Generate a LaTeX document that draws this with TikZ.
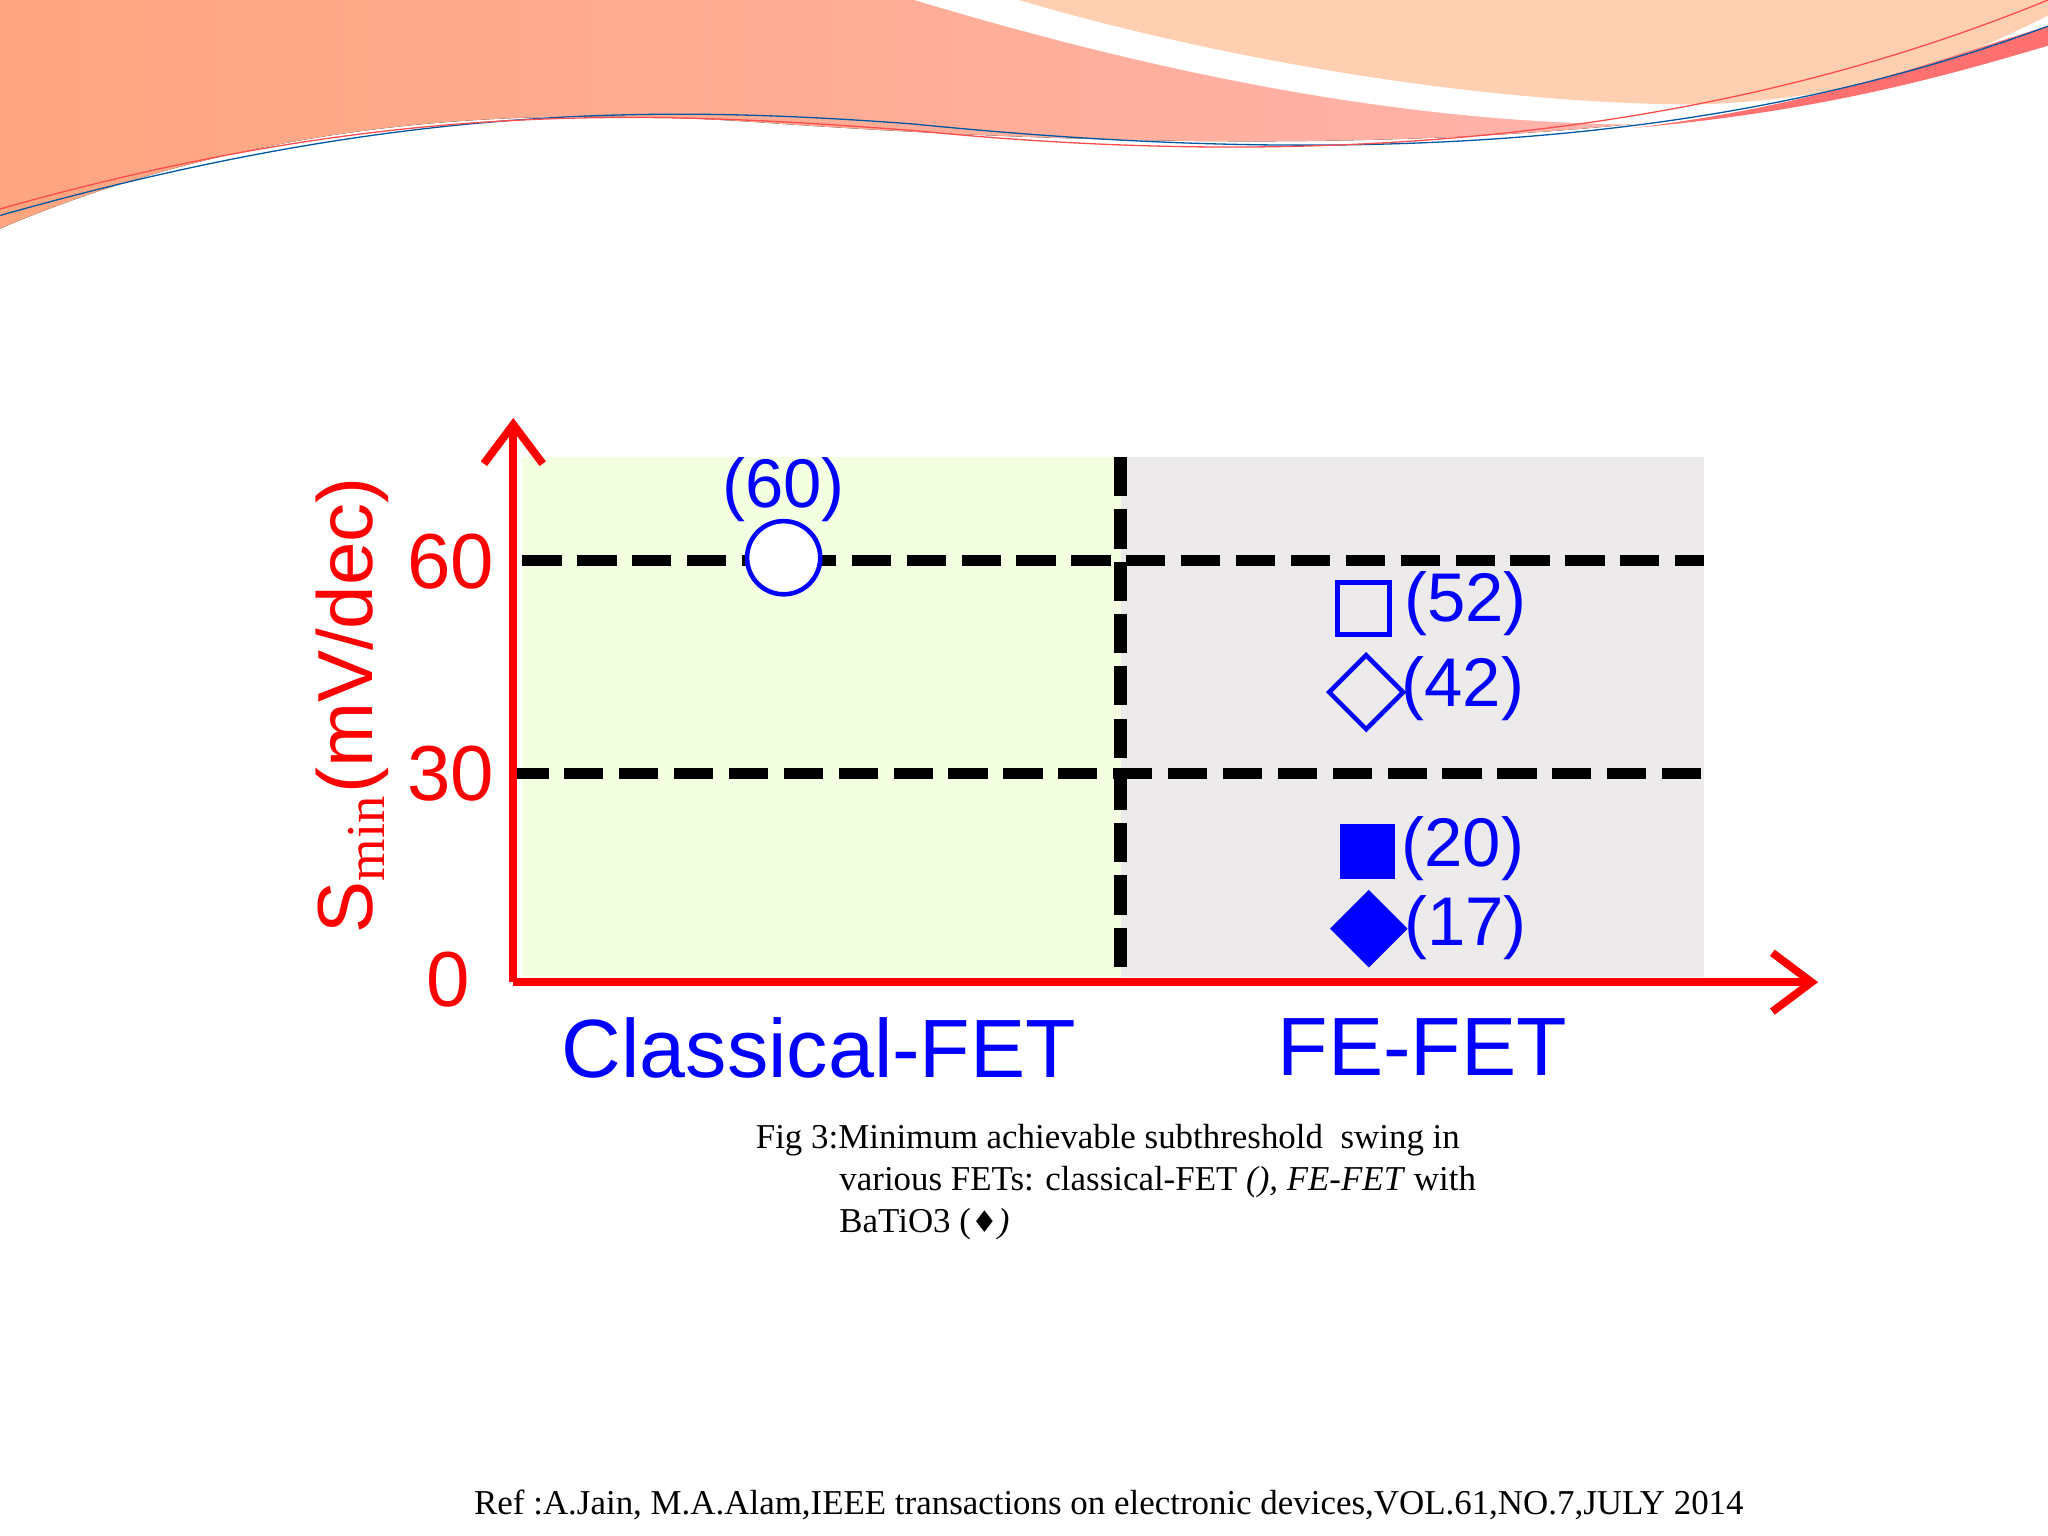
\documentclass[tikz,border=0pt]{standalone}
\usepackage{fontspec}
\setmainfont{Liberation Serif}
\setsansfont{Liberation Sans}
\newfontfamily\symf{DejaVu Sans}
\usetikzlibrary{arrows.meta}
\begin{document}
\begin{tikzpicture}[x=0.01cm,y=-0.01cm,
  dashln/.style={line width=0.085cm,dash pattern=on 0.3cm off 0.12cm},
  axis/.style={red,line width=0.06cm,-{Straight Barb[length=0.3cm,width=0.45cm,line width=0.06cm]}},
  mk/.style={blue,line width=0.035cm},
  lbl/.style={font=\sffamily\fontsize{15}{15}\selectfont,text=blue},
  tick/.style={font=\sffamily\fontsize{17}{17}\selectfont,text=red},
  captxt/.style={font=\fontsize{7.6}{9}\selectfont,anchor=west,inner sep=0}]
\useasboundingbox (0,0) rectangle (1568,1176);
% top decoration
\fill[left color=orange!60!red!50, right color=red!30!pink!60] (0,0) -- (0,175) .. controls (200,90) and (400,80) .. (600,95) .. controls (900,115) and (1100,110) .. (1250,95) .. controls (1400,80) and (1500,40) .. (1568,20) -- (1568,0) -- cycle;
\fill[white] (700,0) .. controls (900,60) and (1100,100) .. (1300,95) .. controls (1450,90) and (1530,40) .. (1568,25) -- (1568,0) -- cycle;
\fill[red!25!orange!30] (780,0) .. controls (950,50) and (1150,80) .. (1300,80) .. controls (1450,75) and (1530,30) .. (1568,12) -- (1568,0) -- cycle;
\fill[red!60!pink!80] (1250,98) .. controls (1400,85) and (1500,55) .. (1568,35) -- (1568,20) .. controls (1500,40) and (1400,80) .. (1250,98) -- cycle;
\draw[teal!70!blue,line width=0.01cm] (0,165) .. controls (300,80) and (500,80) .. (700,95) .. controls (1000,125) and (1300,120) .. (1568,20);
\draw[red!70,line width=0.01cm] (0,160) .. controls (300,75) and (500,85) .. (700,100) .. controls (1000,130) and (1300,110) .. (1568,0);
% chart
\fill[green!40!yellow!12] (400,350) rectangle (858,748);
\fill[blue!30!red!10!gray!15] (858,350) rectangle (1305,748);
\draw[dashln] (400,429) -- (1305,429);
\draw[dashln] (390,592) -- (1305,592);
\draw[line width=0.1cm,dash pattern=on 0.3cm off 0.1cm] (858,350) -- (858,748);
\coordinate (o) at (393,752);
\coordinate (yt) at (393,320);
\coordinate (xt) at (1392,752);
\draw[axis] (o) -- (yt);
\draw[axis] (o) -- (xt);
\node[tick] (t60) at (345,430) {60};
\node[tick] (t30) at (345,592) {30};
\node[tick] (t0) at (343,750) {0};
\node[tick,rotate=90] (yl) at (270,540) {S$_{\mathrm{min}}$(mV/dec)};
\node[draw=blue,line width=0.035cm,fill=white,circle,minimum size=0.56cm,inner sep=0] (c60) at (600,427) {};
\node[lbl] (l60) at (600,375) {(60)};
\node[mk,draw,minimum size=0.4cm,inner sep=0] (s52) at (1044,466) {};
\node[lbl] (l52) at (1122,462) {(52)};
\node[mk,draw,minimum size=0.4cm,inner sep=0,rotate=45] (d42) at (1046,530) {};
\node[lbl] (l42) at (1120,527) {(42)};
\node[fill=blue,minimum size=0.42cm,inner sep=0] (s20) at (1047,652) {};
\node[lbl] (l20) at (1120,650) {(20)};
\node[fill=blue,minimum size=0.42cm,inner sep=0,rotate=45] (d17) at (1048,711) {};
\node[lbl] (l17) at (1122,710) {(17)};
\node[font=\sffamily\fontsize{18}{18}\selectfont,text=blue] (cf) at (627,802) {Classical-FET};
\node[font=\sffamily\fontsize{18}{18}\selectfont,text=blue] (ff) at (1089,802) {FE-FET};
% caption
\node[captxt] (c1) at (578,873) {Fig 3:Minimum achievable subthreshold\ \ swing in};
\node[captxt] (c2) at (642,905) {various FETs: classical-FET \textit{(), FE-FET} with};
\node[captxt] (c3) at (642,937) {BaTiO3 ({\symf\fontsize{6.5}{8}\selectfont ♦}\textit{)}};
\node[font=\fontsize{7.6}{9}\selectfont] (ref) at (849,1152) {Ref :A.Jain, M.A.Alam,IEEE transactions on electronic devices,VOL.61,NO.7,JULY 2014};
\end{tikzpicture}
\end{document}
